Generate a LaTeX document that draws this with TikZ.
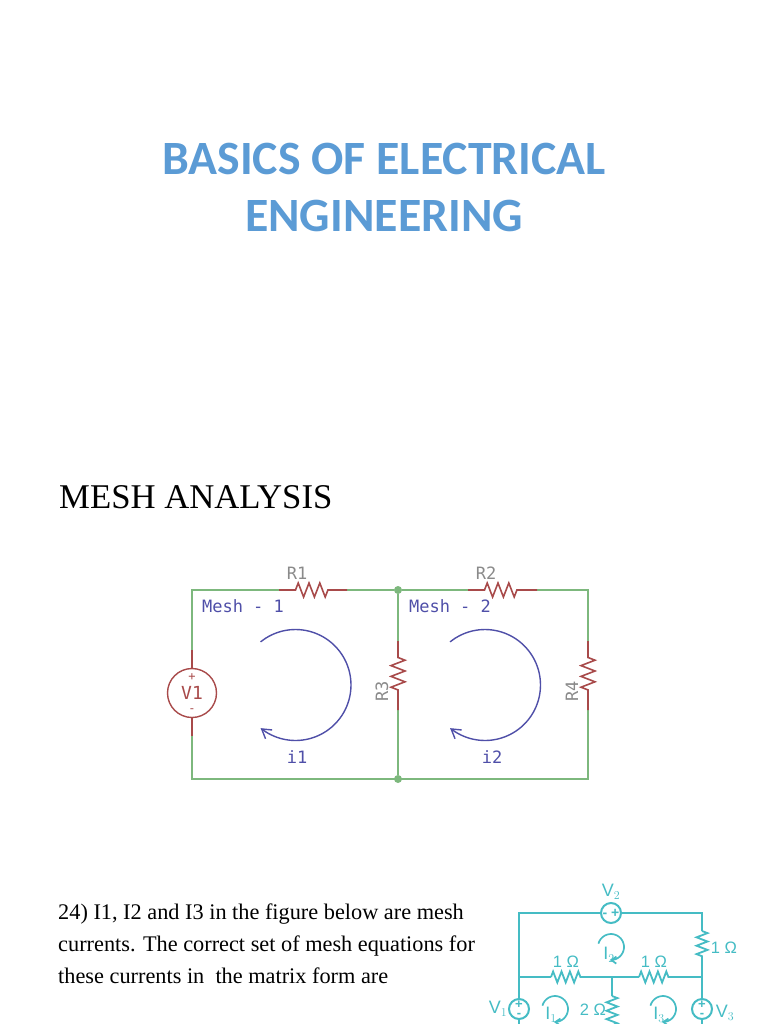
\documentclass[tikz,border=0pt]{standalone}
\usepackage{fontspec}
\setmainfont{Liberation Serif}
\newfontfamily\titlefont{Carlito}
\newfontfamily\schemfont{DejaVu Sans Mono}
\newfontfamily\testfont{Liberation Sans}
\usetikzlibrary{decorations.pathmorphing,arrows.meta}
\definecolor{titleblue}{HTML}{5B9BD5}
\definecolor{wiregreen}{HTML}{7DB87D}
\definecolor{partred}{HTML}{A84A4A}
\definecolor{meshblue}{HTML}{4F4FA8}
\definecolor{labelgray}{HTML}{8A8A8A}
\definecolor{teal}{HTML}{45BCC4}
\tikzset{
	wire/.style = {draw=wiregreen, line width=1.4},
	lead/.style = {draw=partred, line width=1.4},
	zig/.style = {lead, line width=1.6, decorate, decoration={zigzag, amplitude=7, segment length=10.8, pre length=16.5, post length=17.5}},
	dot/.style = {circle, fill=wiregreen, inner sep=0, minimum size=8},
	mesharc/.style = {draw=meshblue, line width=1.4, -{Straight Barb[length=9,width=11]}},
	meshtext/.style = {text=meshblue, font=\schemfont\fontsize{17}{17}\selectfont, inner sep=0},
	parttext/.style = {text=labelgray, font=\schemfont\fontsize{17}{17}\selectfont, inner sep=0},
	twire/.style = {draw=teal, line width=2},
	tzig/.style = {twire, line width=1.8, decorate, decoration={zigzag, amplitude=5.5, segment length=8.4, pre length=0, post length=0}},
	tsrc/.style = {circle, draw=teal, line width=2, fill=white, minimum size=20, inner sep=0, text=teal},
	ttext/.style = {text=teal, font=\testfont\fontsize{18}{18}\selectfont, inner sep=0},
	ohmtext/.style = {text=teal, font=\testfont\fontsize{16.5}{16.5}\selectfont, inner sep=0},
	tarc/.style = {draw=teal, line width=1.7, -{Straight Barb[length=5,width=7]}},
	bodytext/.style = {font=\fontsize{22.3}{22.3}\selectfont, inner sep=0, anchor=base west}
}
\begin{document}
\begin{tikzpicture}[x=1pt,y=-1pt]
	\useasboundingbox (0,0) rectangle (768,1024);
	\clip (0,0) rectangle (768,1024);

	% title and headings
	\node[text=titleblue, font=\titlefont\bfseries\fontsize{47.8}{47.8}\selectfont, inner sep=0] (titleone) at (384,159) {BASICS OF ELECTRICAL};
	\node[text=titleblue, font=\titlefont\bfseries\fontsize{47.8}{47.8}\selectfont, inner sep=0] (titletwo) at (384,216) {ENGINEERING};
	\node[font=\fontsize{34.7}{34.7}\selectfont, inner sep=0, anchor=base west] (heading) at (59,508) {MESH ANALYSIS};
	\node[bodytext] (lineone) at (58,919) {24) I1, I2 and I3 in the figure below are mesh};
	\node[bodytext] (linetwo) at (58,951) {currents. The correct set of mesh equations for};
	\node[bodytext] (linethree) at (58,983) {these currents in\ \ the matrix form are};

	% mesh circuit
	\coordinate (tl) at (192,590);
	\coordinate (bl) at (192,779);
	\coordinate (tr) at (588,590);
	\coordinate (br) at (588,779);
	\node[dot] (topdot) at (398,590) {};
	\node[dot] (botdot) at (398,779) {};
	\node[circle, draw=partred, line width=1.4, minimum size=49, inner sep=0, text=partred, font=\schemfont\fontsize{18}{18}\selectfont] (vone) at (192,693) {V1};
	\node[text=partred, font=\schemfont\fontsize{12}{12}\selectfont, inner sep=0] (vplus) at (192,677) {+};
	\node[text=partred, font=\schemfont\fontsize{12}{12}\selectfont, inner sep=0] (vminus) at (192,711) {-};

	\coordinate (ronea) at (279,590);
	\coordinate (roneb) at (347,590);
	\coordinate (rtwoa) at (468,590);
	\coordinate (rtwob) at (537,590);
	\coordinate (rthreea) at (398,641);
	\coordinate (rthreeb) at (398,710);
	\coordinate (rfoura) at (588,641);
	\coordinate (rfourb) at (588,710);
	\coordinate (vtop) at (192,650);
	\coordinate (vbot) at (192,736);

	\draw[wire] (vtop) -- (tl) -- (ronea);
	\draw[wire] (roneb) -- (topdot) -- (rtwoa);
	\draw[wire] (rtwob) -- (tr) -- (rfoura);
	\draw[wire] (rfourb) -- (br) -- (bl) -- (vbot);
	\draw[wire] (topdot) -- (rthreea);
	\draw[wire] (rthreeb) -- (botdot);
	\draw[lead] (vtop) -- (vone);
	\draw[lead] (vone) -- (vbot);
	\draw[zig] (ronea) -- (roneb);
	\draw[zig] (rtwoa) -- (rtwob);
	\draw[zig] (rthreea) -- (rthreeb);
	\draw[zig] (rfoura) -- (rfourb);

	\node[parttext] (rone) at (297,573) {R1};
	\node[parttext] (rtwo) at (486,573) {R2};
	\node[parttext, rotate=90] (rthree) at (382,691) {R3};
	\node[parttext, rotate=90] (rfour) at (572,691) {R4};
	\node[meshtext] (meshone) at (243,606) {Mesh - 1};
	\node[meshtext] (meshtwo) at (450,606) {Mesh - 2};
	\node[meshtext] (ione) at (297,757) {i1};
	\node[meshtext] (itwo) at (492,757) {i2};

	\draw[mesharc] plot[smooth, samples=40, domain=129:-129] ({295.5+55.5*cos(\x)},{685-55.5*sin(\x)});
	\draw[mesharc] plot[smooth, samples=40, domain=129:-129] ({485+55.5*cos(\x)},{685-55.5*sin(\x)});

	% second circuit
	\coordinate (ctl) at (518.5,913);
	\coordinate (ctr) at (702,913);
	\coordinate (cml) at (518.5,977);
	\coordinate (cmr) at (702,977);
	\coordinate (cjoin) at (612,977);
	\coordinate (czone) at (702,931);
	\coordinate (cztwo) at (702,957);
	\coordinate (cla) at (551,977);
	\coordinate (clb) at (582,977);
	\coordinate (cra) at (639,977);
	\coordinate (crb) at (671,977);
	\coordinate (cda) at (612,996);
	\coordinate (cdb) at (612,1032);
	\coordinate (cvl) at (518.5,1030);
	\coordinate (cvr) at (702,1030);

	\draw[twire] (cvl) -- (ctl) -- (ctr) -- (czone);
	\draw[tzig] (czone) -- (cztwo);
	\draw[twire] (cztwo) -- (cvr);
	\draw[twire] (cml) -- (cla);
	\draw[tzig] (cla) -- (clb);
	\draw[twire] (clb) -- (cra);
	\draw[tzig] (cra) -- (crb);
	\draw[twire] (crb) -- (cmr);
	\draw[twire] (cjoin) -- (cda);
	\draw[tzig] (cda) -- (cdb);

	\node[tsrc, font=\testfont\bfseries\fontsize{14}{14}\selectfont] (vtwo) at (611,913) {- +};
	\node[tsrc, font=\testfont\bfseries\fontsize{13}{9}\selectfont, align=center] (vonec) at (519,1009) {+\\-};
	\node[tsrc, font=\testfont\bfseries\fontsize{13}{9}\selectfont, align=center] (vthree) at (702,1009) {+\\-};

	\draw[tarc] plot[smooth, samples=24, domain=165:-95] ({611+13*cos(\x)},{947-13*sin(\x)});
	\draw[tarc] plot[smooth, samples=24, domain=165:-95] ({555+13*cos(\x)},{1009-13*sin(\x)});
	\draw[tarc] plot[smooth, samples=24, domain=165:-95] ({663+13*cos(\x)},{1009-13*sin(\x)});

	\node[ttext] (vtwotext) at (611,892) {V$_2$};
	\node[ttext] (vonetext) at (498,1009) {V$_1$};
	\node[ttext] (vthreetext) at (725,1013) {V$_3$};
	\node[ttext] (itwotext) at (609,955) {I$_2$};
	\node[ttext] (ionetext) at (551,1015) {I$_1$};
	\node[ttext] (ithreetext) at (659,1015) {I$_3$};
	\node[ohmtext] (ohmone) at (724,948) {1 Ω};
	\node[ohmtext] (ohmtwo) at (566,962) {1 Ω};
	\node[ohmtext] (ohmthree) at (654,962) {1 Ω};
	\node[ohmtext] (ohmfour) at (593,1010) {2 Ω};
\end{tikzpicture}
\end{document}
